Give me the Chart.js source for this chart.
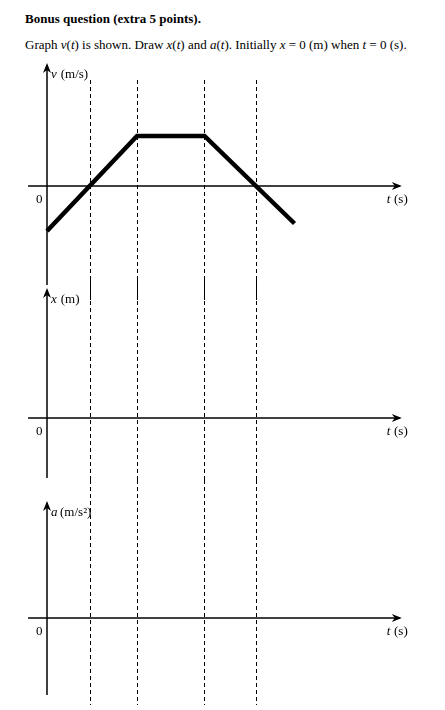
<!DOCTYPE html>
<html><head><meta charset="utf-8">
<script src="https://cdn.jsdelivr.net/npm/chart.js@4/dist/chart.umd.min.js"></script>
<style>
body{margin:0;background:#fff;width:445px;height:710px;position:relative;overflow:hidden;font-family:"Liberation Serif",serif;color:#000}
.t1{position:absolute;left:25px;top:11px;font-size:13px;font-weight:bold}
.t2{position:absolute;left:25px;top:37px;font-size:13px}
.c{position:absolute;left:0}
</style></head><body>
<div class="t1">Bonus question (extra 5 points).</div>
<div class="t2">Graph <i>v</i>(<i>t</i>) is shown. Draw <i>x</i>(<i>t</i>) and <i>a</i>(<i>t</i>). Initially <i>x</i> = 0 (m) when <i>t</i> = 0 (s).</div>
<div class="c" style="top:60px"><canvas id="c1" width="445" height="240"></canvas></div>
<div class="c" style="top:280px"><canvas id="c2" width="445" height="200"></canvas></div>
<div class="c" style="top:480px"><canvas id="c3" width="445" height="225"></canvas></div>
<script>
const vTimes=[0,2,3.5,5.5];
const vValues=[-0.9,1,1,-0.75];
const markerTimes=[0.96,2,3.5,4.65];
const panelLabels=["v (m/s)","x (m)","a (m/s²)"];
const panelVars=["v","x","a"];
const T_MIN=-47/45, T_MAX=(445-47)/45;

function axesPlugin(idx,yAxTop,yAxBot,dashTop,dashBot){
 return {id:'ax'+idx,afterDatasetsDraw(ch){
  const c=ch.ctx,x=ch.scales.x,y=ch.scales.y;
  const x0=x.getPixelForValue(0),y0=y.getPixelForValue(0);
  c.save();c.strokeStyle='#000';c.fillStyle='#000';
  // dashed markers
  c.lineWidth=1;c.setLineDash([4,3]);
  markerTimes.forEach(t=>{const px=Math.round(x.getPixelForValue(t))+0.5;c.beginPath();c.moveTo(px,y.getPixelForValue(dashTop));c.lineTo(px,y.getPixelForValue(dashBot));c.stroke();});
  c.setLineDash([]);c.lineWidth=1.5;
  // y axis
  const yt=y.getPixelForValue(yAxTop);
  c.beginPath();c.moveTo(x0,y.getPixelForValue(yAxBot));c.lineTo(x0,yt);c.stroke();
  c.beginPath();c.moveTo(x0,yt-2);c.lineTo(x0-4,yt+8);c.lineTo(x0,yt+5);c.lineTo(x0+4,yt+8);c.closePath();c.fill();
  // x axis
  const xl=x.getPixelForValue(-0.42),xr=x.getPixelForValue(7.84);
  c.beginPath();c.moveTo(xl,y0);c.lineTo(xr,y0);c.stroke();
  c.beginPath();c.moveTo(xr+2,y0);c.lineTo(xr-8,y0-4);c.lineTo(xr-5,y0);c.lineTo(xr-8,y0+4);c.closePath();c.fill();
  // labels
  c.font='13px "Liberation Serif"';c.textBaseline='middle';
  c.fillText('0',x0-11,y0+14);
  c.font='italic 13px "Liberation Serif"';c.fillText('t',x.getPixelForValue(7.55),y0+14);
  c.font='13px "Liberation Serif"';c.fillText(' (s)',x.getPixelForValue(7.55)+4,y0+14);
  c.font='italic 13px "Liberation Serif"';const v=panelVars[idx];c.fillText(v,x0+4,yt+10);
  c.font='13px "Liberation Serif"';c.fillText(panelLabels[idx].slice(1),x0+4+c.measureText(v).width,yt+10);
  c.restore();
 }};
}
function make(id,idx,ymin,ymax,data,yAxTop,yAxBot,dashTop,dashBot){
 new Chart(document.getElementById(id),{type:'scatter',
  data:{datasets:[{data:data,showLine:true,borderColor:'#000',borderWidth:4.5,pointRadius:0,tension:0}]},
  options:{responsive:false,animation:false,events:[],layout:{padding:0},
   plugins:{legend:{display:false},tooltip:{enabled:false}},
   scales:{x:{type:'linear',min:T_MIN,max:T_MAX,display:false},y:{min:ymin,max:ymax,display:false}}},
  plugins:[axesPlugin(idx,yAxTop,yAxBot,dashTop,dashBot)]});
}
make('c1',0,-2.28,2.52,vTimes.map((t,i)=>({x:t,y:vValues[i]})),2.42,-1.98,2.12,-2.28);
make('c2',1,-0.62,1.38,[],1.28,-0.6,1.38,-0.62);
make('c3',2,-0.87,1.38,[],1.15,-0.77,1.38,-0.87);
</script></body></html>
